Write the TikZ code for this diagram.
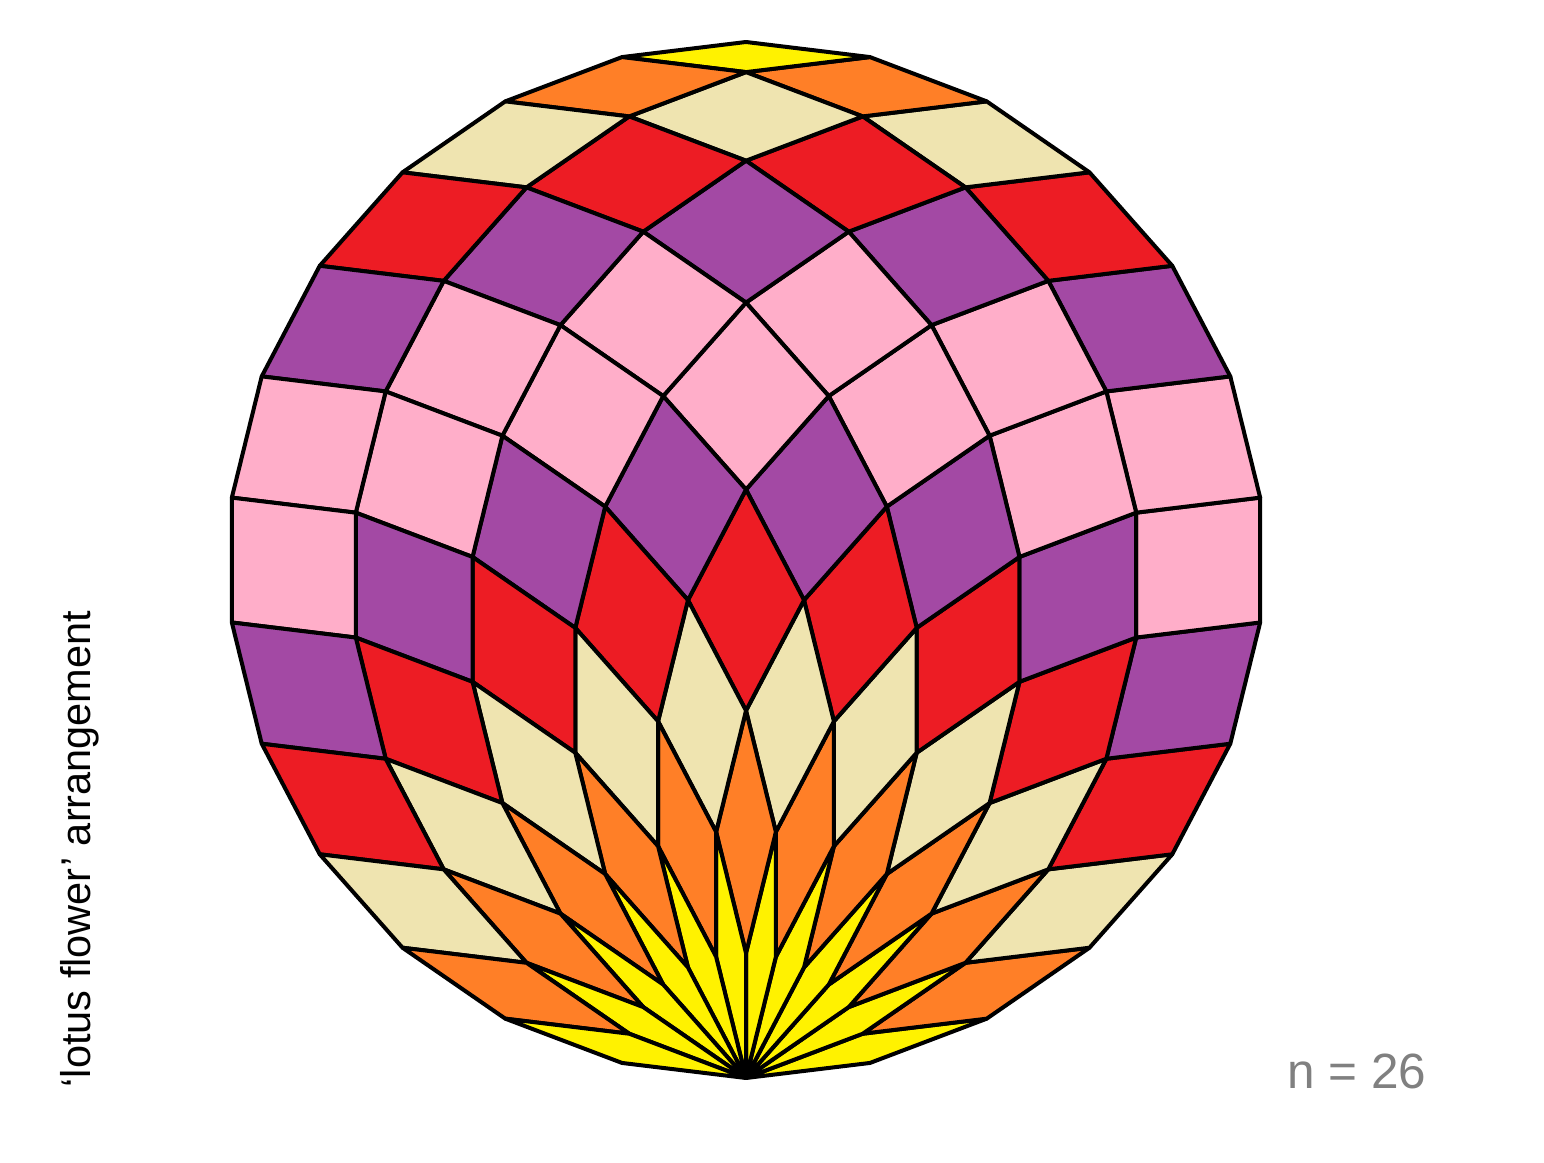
\documentclass[tikz,border=0pt]{standalone}
\usepackage{fontspec}
\setmainfont{Liberation Sans}
\definecolor{c0}{RGB}{255,242,0}
\definecolor{c1}{RGB}{255,127,39}
\definecolor{c2}{RGB}{239,228,176}
\definecolor{c3}{RGB}{237,28,36}
\definecolor{c4}{RGB}{163,73,164}
\definecolor{c5}{RGB}{255,174,201}
\definecolor{c6}{RGB}{255,174,201}
\definecolor{c7}{RGB}{163,73,164}
\definecolor{c8}{RGB}{237,28,36}
\definecolor{c9}{RGB}{239,228,176}
\definecolor{c10}{RGB}{255,127,39}
\definecolor{c11}{RGB}{255,242,0}
\definecolor{labelgray}{RGB}{128,128,128}
\tikzset{tile/.style={draw=black,line width=4pt,line join=round}}
\begin{document}
\begin{tikzpicture}[x=1pt,y=1pt]
\useasboundingbox (0,0) rectangle (1544,1162);
\begin{scope}[shift={(746,84)}]
\foreach \a in {1,...,12}{
  \foreach \b in {\a,...,12}{
    \pgfmathtruncatemacro\k{\b-\a}
    \pgfmathsetmacro\angA{(\a+\b)*90/13}
    \pgfmathsetmacro\angB{(\a+\b-1)*90/13}
    \pgfmathsetmacro\angD{(\a+\b+1)*90/13}
    \pgfmathsetmacro\rA{1036*sin((\b-\a)*90/13)}
    \pgfmathsetmacro\rB{1036*sin((\b-\a+1)*90/13)}
    \pgfmathsetmacro\rC{1036*sin((\b-\a+2)*90/13)}
    \filldraw[tile,fill=c\k] (\angA:\rA) -- (\angB:\rB) -- (\angA:\rC) -- (\angD:\rB) -- cycle;
  }
}
\end{scope}
\node[rotate=90,font=\fontsize{41.5}{48}\selectfont,inner sep=0pt] (title) at (80,313) {‘lotus flower’ arrangement};
\node[anchor=base,font=\fontsize{49.5}{58}\selectfont,text=labelgray,inner sep=0pt] (nlabel) at (1357,74) {n = 26};
\end{tikzpicture}
\end{document}
